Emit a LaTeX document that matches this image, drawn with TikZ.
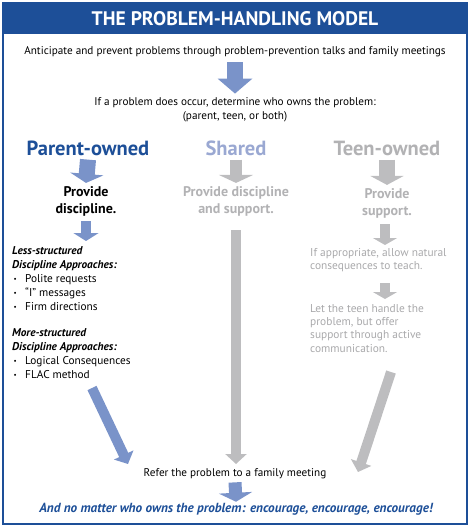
\documentclass[tikz,border=0pt]{standalone}
\usepackage{fontspec}
\setmainfont{PT Sans}
\usetikzlibrary{positioning, arrows.meta}

\definecolor{titleblue}{HTML}{1D4F98}
\definecolor{arrowblue}{HTML}{7A93C9}
\definecolor{sharedblue}{HTML}{9AA8D2}
\definecolor{headgrey}{HTML}{B2B2B4}
\definecolor{arrowgrey}{HTML}{BDBDBF}
\definecolor{bodygrey}{HTML}{A9A9AB}

\newcommand{\bul}{\makebox[13pt][l]{\hspace{1.5pt}\raisebox{0.5pt}{\scriptsize •}}}

\begin{document}
\begin{tikzpicture}[x=1pt, y=-1pt,
    txt/.style={inner sep=0pt, font=\fontsize{11.2}{14}\selectfont, align=center},
    heading/.style={inner sep=0pt, font=\fontsize{20.5}{22}\selectfont\bfseries},
    provide/.style={inner sep=0pt, font=\fontsize{14}{17}\selectfont\bfseries, align=center},
    list/.style={inner sep=0pt, anchor=north west, align=left,
                 font=\fontsize{11.3}{14}\selectfont},
    teentext/.style={inner sep=0pt, anchor=north west, align=left,
                 text=bodygrey, font=\fontsize{11.4}{13.4}\selectfont},
    fat/.style n args={3}{line width=#1pt, -{Triangle[width=#2pt, length=#3pt]}},
    bluearrow/.style={draw=arrowblue},
    greyarrow/.style={draw=arrowgrey}
]
    \useasboundingbox (0,0) rectangle (472,527);

    % Frame and title
    \fill[titleblue] (3,3) rectangle (467,34);
    \draw[titleblue, line width=1.5pt] (3,3) rectangle (467,524);
    \node[inner sep=0pt, text=white, font=\fontsize{19.6}{20}\selectfont\bfseries] (title) at (235,19) {THE PROBLEM-HANDLING MODEL};

    % Top part
    \node[txt] (intro) at (235,52) {Anticipate and prevent problems through problem-prevention talks and family meetings};
    \node[txt] (owner) at (235,110) {If a problem does occur, determine who owns the problem:\\(parent, teen, or both)};
    \draw[bluearrow, fat={16}{34}{15}] ([yshift=-5pt]intro.south) -- ([yshift=4pt]owner.north);

    % Headings
    \node[heading, text=titleblue] (parent) at (88,148) {Parent-owned};
    \node[heading, text=sharedblue] (shared) at (236,148) {Shared};
    \node[heading, text=headgrey] (teen) at (387,148) {Teen-owned};

    % Parent column
    \node[provide] (pdisc) at (86,201) {Provide\\discipline.};
    \draw[bluearrow, fat={16}{33}{9}] ([yshift=-4pt]parent.south) -- ([yshift=3pt]pdisc.north);
    \node[list] (less) at (12,246) {\textbf{\textit{Less-structured}}\\\textbf{\textit{Discipline Approaches:}}\\\bul Polite requests\\\bul “I” messages\\\bul Firm directions};
    \draw[bluearrow, fat={10}{25}{8}] ([yshift=-5pt]pdisc.south) -- ([yshift=5pt]less.north -| pdisc.south);
    \node[list] (more) at (12,328) {\textbf{\textit{More-structured}}\\\textbf{\textit{Discipline Approaches:}}\\\bul Logical Consequences\\\bul FLAC method};

    % Shared column
    \node[provide, text=headgrey] (sdisc) at (236,201) {Provide discipline\\and support.};
    \draw[greyarrow, fat={12}{34}{8}] ([yshift=-4pt]shared.south) -- ([yshift=3pt]sdisc.north);

    % Teen column
    \node[provide, text=headgrey] (tsupp) at (387,203) {Provide\\support.};
    \draw[greyarrow, fat={16}{33}{9}] ([yshift=-4pt]teen.south) -- ([yshift=3pt]tsupp.north);
    \node[teentext] (natural) at (310,248) {If appropriate, allow natural\\consequences to teach.};
    \draw[greyarrow, fat={10}{24}{7}] ([xshift=-2pt,yshift=-6pt]tsupp.south) -- ([yshift=3pt]natural.north -| 385,0);
    \node[teentext] (handle) at (310,304) {Let the teen handle the\\problem, but offer\\support through active\\communication.};
    \draw[greyarrow, fat={10}{24}{7}] ([yshift=-11pt]natural.south -| 385,0) -- ([yshift=5pt]handle.north -| 385,0);

    % Bottom part
    \node[txt] (refer) at (235,474) {Refer the problem to a family meeting};
    \node[inner sep=0pt, text=titleblue, font=\fontsize{13.2}{14}\selectfont\bfseries\itshape] (final) at (236,509) {And no matter who owns the problem: encourage, encourage, encourage!};

    \coordinate (ptail) at (92,388);
    \coordinate (ptip) at (128,464);
    \coordinate (ttail) at (391,372);
    \coordinate (ttip) at (358,472);
    \draw[bluearrow, fat={10}{21}{10}] (ptail) -- (ptip);
    \draw[greyarrow, fat={10}{21}{10}] (sdisc.south |- 0,230) -- (sdisc.south |- 0,464);
    \draw[greyarrow, fat={10}{21}{10}] (ttail) -- (ttip);
    \draw[bluearrow, fat={13}{33}{9}] ([yshift=-3pt]refer.south) -- ([yshift=1pt]final.north);

\end{tikzpicture}
\end{document}
